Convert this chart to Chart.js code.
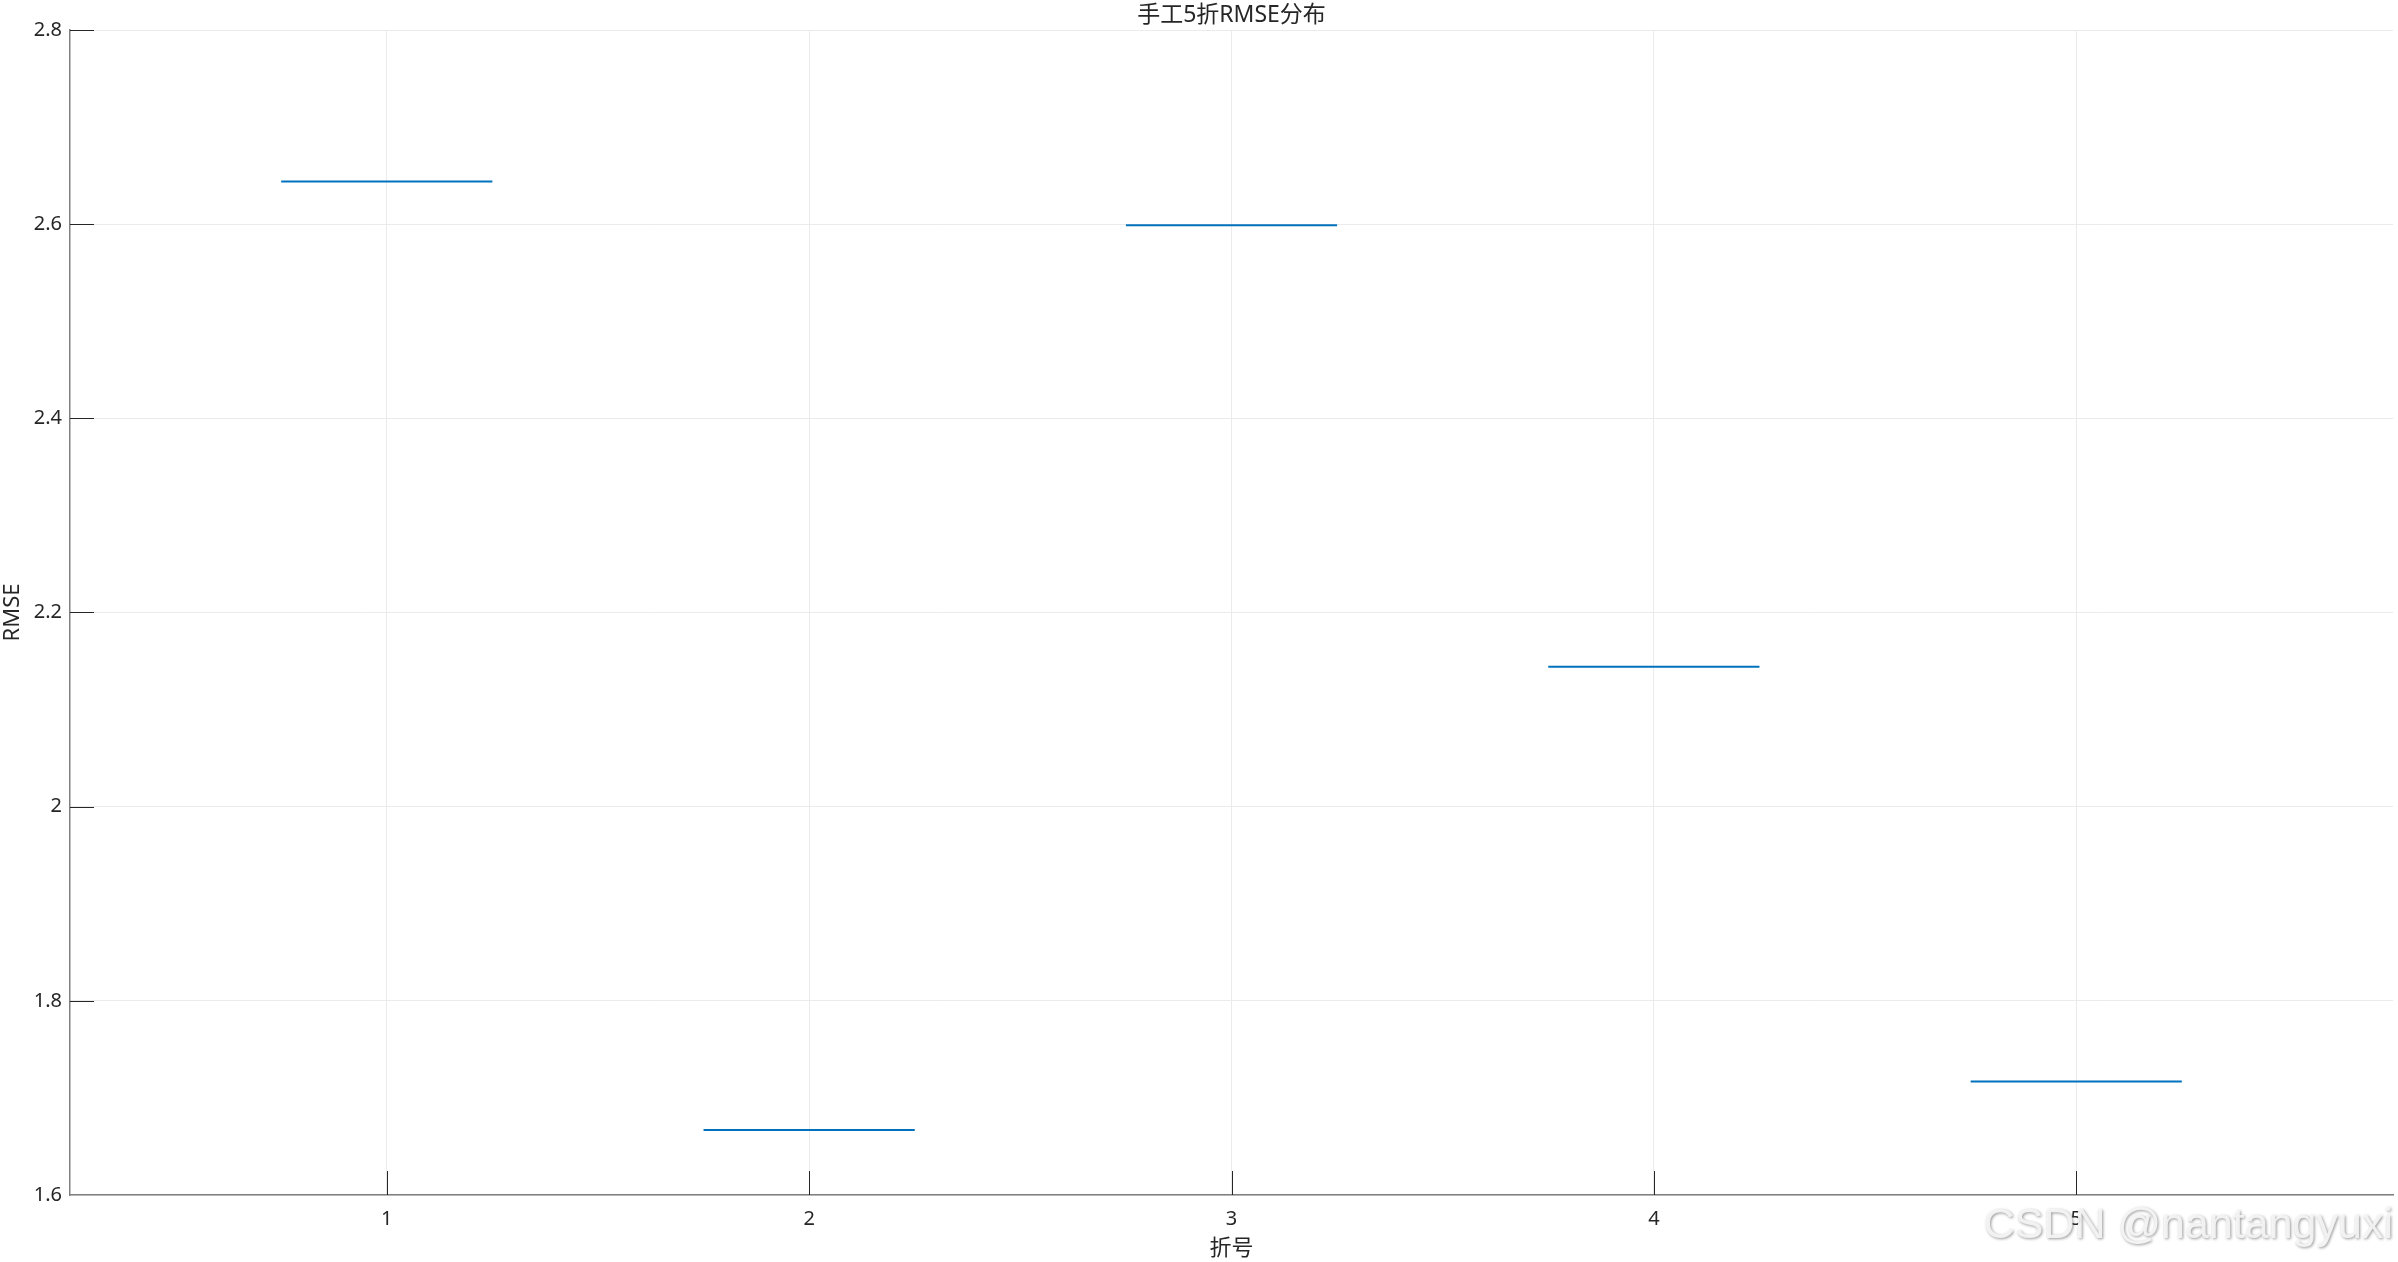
<!DOCTYPE html>
<html>
<head>
    <meta charset="utf-8">
    <title>手工5折RMSE分布</title>
    <script src="https://cdn.jsdelivr.net/npm/chart.js"></script>
    <style>
        html, body {
            margin: 0;
            padding: 0;
            background: #ffffff;
        }
        .chart-box {
            width: 2398px;
            height: 1262px;
        }
    </style>
</head>
<body>
<div class="chart-box">
    <canvas id="rmse-chart"></canvas>
</div>
<script>
    // values
    const folds = [1, 2, 3, 4, 5];
    const rmse = [2.644, 1.667, 2.599, 2.144, 1.717];
    const yTickValues = [1.6, 1.8, 2.0, 2.2, 2.4, 2.6, 2.8];
    const xLimits = [0.25, 5.75];
    const boxHalfWidth = 0.25;

    const titleText = '手工5折RMSE分布';
    const xTitle = '折号';
    const yTitle = 'RMSE';
    const watermark = 'CSDN @nantangyuxi';

    const fontFamily = '"Noto Sans", "Noto Sans CJK SC", sans-serif';
    const textColor = '#262626';

    // one flat segment per fold (the collapsed box of a single value)
    const datasets = folds.map((fold, i) => ({
        label: 'fold ' + fold,
        data: [
            { x: fold - boxHalfWidth, y: rmse[i] },
            { x: fold + boxHalfWidth, y: rmse[i] }
        ],
        borderColor: '#0072BD',
        borderWidth: 2,
        pointRadius: 0,
        fill: false
    }));

    // ticks pointing into the plot, title over plot area, watermark
    const decorPlugin = {
        id: 'decor',
        beforeDatasetsDraw(chart) {
            const { ctx, chartArea, scales } = chart;
            ctx.save();
            ctx.strokeStyle = textColor;
            ctx.lineWidth = 1;
            ctx.beginPath();
            folds.forEach(v => {
                const px = Math.round(scales.x.getPixelForValue(v)) + 0.5;
                ctx.moveTo(px, chartArea.bottom);
                ctx.lineTo(px, chartArea.bottom - 24);
            });
            // the lowest tick sits on the x axis line, so leave it out
            yTickValues.slice(1).forEach(v => {
                const py = Math.round(scales.y.getPixelForValue(v)) + 0.5;
                ctx.moveTo(chartArea.left, py);
                ctx.lineTo(chartArea.left + 24, py);
            });
            ctx.stroke();
            ctx.restore();
        },
        afterDraw(chart) {
            const { ctx, chartArea } = chart;
            ctx.save();
            ctx.fillStyle = textColor;
            ctx.font = '23px ' + fontFamily;
            ctx.textAlign = 'center';
            ctx.textBaseline = 'middle';
            ctx.fillText(titleText, (chartArea.left + chartArea.right) / 2, 15);

            ctx.font = '43px "Liberation Sans", Arial, sans-serif';
            ctx.textAlign = 'right';
            ctx.textBaseline = 'alphabetic';
            ctx.shadowColor = 'rgba(0, 0, 0, 0.45)';
            ctx.shadowBlur = 3;
            ctx.shadowOffsetX = 1;
            ctx.shadowOffsetY = 1;
            ctx.fillStyle = 'rgba(246, 246, 246, 0.92)';
            ctx.fillText(watermark, 2393, 1238);
            ctx.restore();
        }
    };

    new Chart(document.getElementById('rmse-chart').getContext('2d'), {
        type: 'line',
        data: { datasets: datasets },
        plugins: [decorPlugin],
        options: {
            responsive: true,
            maintainAspectRatio: false,
            animation: false,
            layout: {
                padding: { top: 30, right: 5, left: 0, bottom: 0 }
            },
            plugins: {
                legend: { display: false },
                tooltip: { enabled: false },
                title: { display: false }
            },
            scales: {
                x: {
                    type: 'linear',
                    min: xLimits[0],
                    max: xLimits[1],
                    afterBuildTicks: scale => {
                        scale.ticks = folds.map(v => ({ value: v }));
                    },
                    afterFit: scale => {
                        scale.height = 67;
                    },
                    grid: {
                        color: '#ebebeb',
                        lineWidth: 1,
                        drawTicks: false
                    },
                    border: {
                        color: '#808080',
                        width: 1.5
                    },
                    ticks: {
                        color: textColor,
                        padding: 12,
                        maxRotation: 0,
                        font: { family: fontFamily, size: 20 }
                    },
                    title: {
                        display: true,
                        text: xTitle,
                        color: textColor,
                        padding: 0,
                        font: { family: fontFamily, size: 22 }
                    }
                },
                y: {
                    type: 'linear',
                    min: yTickValues[0],
                    max: yTickValues[yTickValues.length - 1],
                    afterBuildTicks: scale => {
                        scale.ticks = yTickValues.map(v => ({ value: v }));
                    },
                    afterFit: scale => {
                        scale.width = 70;
                    },
                    grid: {
                        color: '#ebebeb',
                        lineWidth: 1,
                        drawTicks: false
                    },
                    border: {
                        color: '#808080',
                        width: 1.5
                    },
                    ticks: {
                        color: textColor,
                        padding: 8,
                        font: { family: fontFamily, size: 20 },
                        callback: value => parseFloat(value.toFixed(1)).toString()
                    },
                    title: {
                        display: true,
                        text: yTitle,
                        color: textColor,
                        padding: 0,
                        font: { family: fontFamily, size: 22 }
                    }
                }
            }
        }
    });
</script>
</body>
</html>
